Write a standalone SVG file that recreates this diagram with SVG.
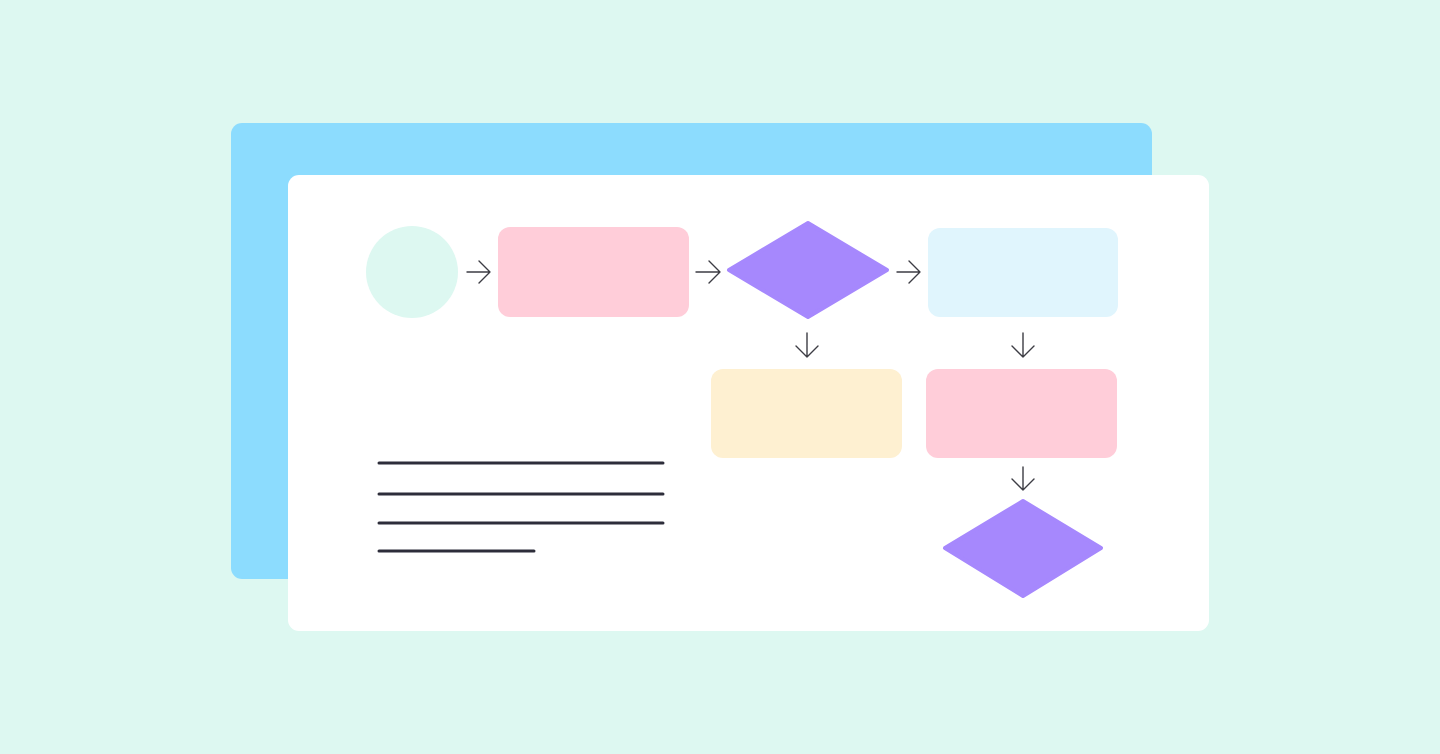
<svg xmlns="http://www.w3.org/2000/svg" width="1440" height="754" viewBox="0 0 1440 754">
<style>
.arrow{fill:none;stroke:#3d3d44;stroke-width:1.4;stroke-linecap:round;stroke-linejoin:round}
.txt{fill:none;stroke:#2d2d3a;stroke-width:3;stroke-linecap:round}
.pink{fill:#ffcdd9}
.diamond{fill:#a688fd;stroke:#a688fd;stroke-width:4;stroke-linejoin:round}
</style>
<rect x="0" y="0" width="1440" height="754" fill="#ddf8f1"/>
<rect id="back-card" x="231" y="123" width="921" height="456" rx="11" fill="#8cdcfe"/>
<rect id="front-card" x="288" y="175" width="921" height="456" rx="11" fill="#ffffff"/>
<g id="start"><circle cx="412" cy="272" r="46" fill="#ddf8f1"/></g>
<g id="process1"><rect class="pink" x="498" y="227" width="191" height="90" rx="12"/></g>
<g id="decision1"><polygon class="diamond" points="808,223 887,270 808,317 729,270"/></g>
<g id="process2"><rect x="928" y="228" width="190" height="89" rx="12" fill="#e0f5fd"/></g>
<g id="process3"><rect x="711" y="369" width="191" height="89" rx="12" fill="#fef0d1"/></g>
<g id="process4"><rect class="pink" x="926" y="369" width="191" height="89" rx="12"/></g>
<g id="decision2"><polygon class="diamond" points="1023,501 1101,548 1023,596 945,548"/></g>
<g id="text-lines">
<line class="txt" x1="379" y1="463" x2="663" y2="463"/>
<line class="txt" x1="379" y1="494" x2="663" y2="494"/>
<line class="txt" x1="379" y1="523" x2="663" y2="523"/>
<line class="txt" x1="379" y1="551" x2="534" y2="551"/>
</g>
<g id="connectors">
<path class="arrow" d="M467 272 H490 M479 261 L490 272 L479 283"/>
<path class="arrow" d="M696 272 H720 M709 261 L720 272 L709 283"/>
<path class="arrow" d="M897 272 H920 M909 261 L920 272 L909 283"/>
<path class="arrow" d="M807 333 V357 M796 346 L807 357 L818 346"/>
<path class="arrow" d="M1023 333 V357 M1012 346 L1023 357 L1034 346"/>
<path class="arrow" d="M1023 467 V490 M1012 479 L1023 490 L1034 479"/>
</g>
</svg>
